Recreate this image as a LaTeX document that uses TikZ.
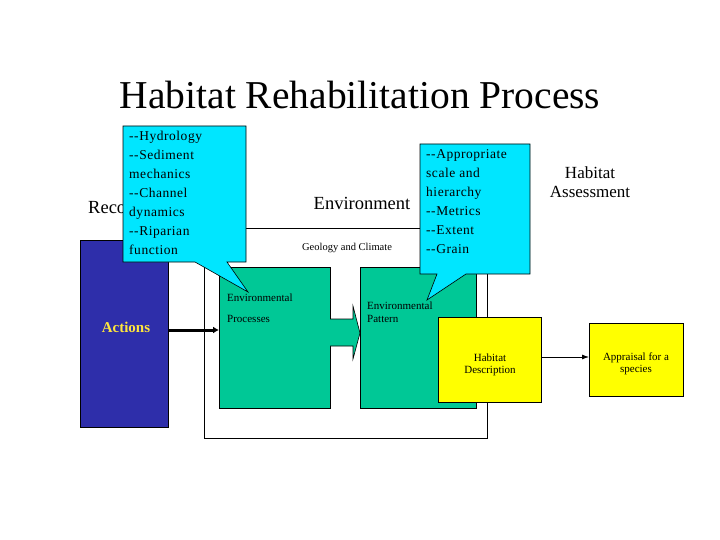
\documentclass[tikz,border=0pt]{standalone}
\usepackage{fontspec}
\setmainfont{Liberation Serif}
\usetikzlibrary{arrows.meta}
\definecolor{navy}{RGB}{46,46,170}
\definecolor{grn}{RGB}{0,200,150}
\definecolor{cy}{RGB}{0,230,255}
\definecolor{yel}{RGB}{255,255,0}
\definecolor{ytxt}{RGB}{255,230,60}
\tikzset{
  box/.style={draw=black, line width=0.6pt, inner sep=0pt},
  small/.style={font=\fontsize{11}{12}\selectfont, align=left, inner sep=0pt},
  mid/.style={font=\fontsize{18.5}{20}\selectfont, inner sep=0pt},
  call/.style={font=\fontsize{13.5}{19}\selectfont\addfontfeatures{LetterSpace=4}, align=left, inner sep=0pt, anchor=north west},
}
\begin{document}
\begin{tikzpicture}[x=1pt,y=-1pt]
\useasboundingbox (0,0) rectangle (720,540);
\node[font=\fontsize{39.5}{42}\selectfont, inner sep=0pt] (title) at (360,95) {Habitat Rehabilitation Process};
\node[mid, anchor=west] (reco) at (88,208) {Reco};
\node[mid] (env) at (362,203) {Environment};
\node[font=\fontsize{17}{19}\selectfont, inner sep=0pt, align=center] (ha) at (590,182) {Habitat\\Assessment};
% outer
\draw[box, fill=white] (204,228) rectangle (487,438);
\node[font=\fontsize{10.5}{12}\selectfont, inner sep=0pt] (geo) at (347,248) {Geology and Climate};
% green boxes
\draw[box, fill=grn] (219,267) rectangle (330,408);
\coordinate (g1w) at (219,330);
\draw[box, fill=grn] (360,267) rectangle (476,408);
\node[small, anchor=west] (ep) at (227,298) {Environmental};
\node[small, anchor=west] (pr) at (227,319) {Processes};
\node[small, anchor=north west, font=\fontsize{11}{13}\selectfont] (pat) at (367,302) {Environmental\\Pattern};
% block arrow
\draw[box, fill=grn] (330,319) -- (353,319) -- (353,306) -- (360,333) -- (353,359) -- (353,346) -- (330,346);
% blue box
\draw[box, fill=navy] (80,240) rectangle (168,427);
\node[font=\bfseries\fontsize{15}{16}\selectfont, text=ytxt, inner sep=0pt] (act) at (126,327) {Actions};
\coordinate (blueE) at (168,330);
\draw[line width=3pt, -{Latex[length=6pt,width=7pt]}] (blueE) -- (g1w);
% yellow boxes
\draw[box, fill=yel] (438,317) rectangle (541,402);
\node[small, align=center] (hd) at (490,365) {Habitat\\Description};
\draw[box, fill=yel] (589,323) rectangle (683,396);
\node[small, align=center] (ap) at (636,364) {Appraisal for a\\species};
\coordinate (hdE) at (541,357);
\coordinate (apW) at (589,357);
\draw[line width=0.8pt, -{Latex[length=7pt,width=5pt]}] (hdE) -- (apW);
% callouts
\draw[box, fill=cy] (123,126) -- (246,126) -- (246,262) -- (227,262) -- (248,292) -- (195,262) -- (123,262) -- cycle;
\node[call] (c1) at (129,131) {{-}{-}Hydrology\\{-}{-}Sediment\\mechanics\\{-}{-}Channel\\dynamics\\{-}{-}Riparian\\function};
\draw[box, fill=cy] (420,144) -- (530,144) -- (530,274) -- (466,274) -- (427,300) -- (437,274) -- (420,274) -- cycle;
\node[call] (c2) at (426,149) {{-}{-}Appropriate\\scale and\\hierarchy\\{-}{-}Metrics\\{-}{-}Extent\\{-}{-}Grain};
\end{tikzpicture}
\end{document}
